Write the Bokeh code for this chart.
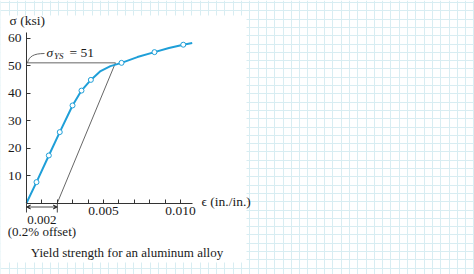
import numpy as np
from bokeh.plotting import figure
from bokeh.models import (Label, BoxAnnotation, FixedTicker, Arrow, VeeHead,
                          NumeralTickFormatter)
from bokeh.embed import file_html
from bokeh.resources import INLINE

# ---------------- data ----------------
# measured points (circles) on the stress-strain curve
strain_pts = [0.00065, 0.00145, 0.00216, 0.00299, 0.00357, 0.00418, 0.00617, 0.00831, 0.01018]
stress_pts = [7.6, 17.3, 25.8, 35.5, 40.9, 44.8, 51.0, 54.9, 57.6]
# points along the drawn curve
curve_strain = [0.0, 0.00065, 0.00145, 0.00216, 0.00299, 0.00357, 0.00418, 0.00481,
                0.00545, 0.00617, 0.00720, 0.00831, 0.00925, 0.01018, 0.01076]
curve_stress = [0.0, 7.6, 17.3, 25.8, 35.5, 40.9, 44.8, 48.0,
                49.8, 51.0, 53.1, 54.9, 56.4, 57.6, 58.2]
yield_stress = 51          # ksi
offset_strain = 0.002      # 0.2 % offset
offset_modulus = 13500     # slope of drawn offset line (ksi per in./in.)
y_ticks = [10, 20, 30, 40, 50, 60]
x_label_ticks = [0.005, 0.010]
x_minor_ticks = [0.001, 0.002, 0.003, 0.004, 0.006, 0.007, 0.008, 0.009]

# ---------------- layout helpers (pixel -> data) ----------------
W, H = 474, 274
X0_PX, PX_PER_X = 26.0, 15400.0
Y0_PX, PX_PER_Y = 202.5, 2.748


def px2x(px):
    return (px - X0_PX) / PX_PER_X


def px2y(py):
    return (Y0_PX - py) / PX_PER_Y


FONT = "Liberation Serif"
INK = "#1a1a1a"
CURVE = "#1f9fd8"
THIN = "#555555"

p = figure(width=W, height=H, x_range=(px2x(0), px2x(W)), y_range=(px2y(H), px2y(0)),
           output_backend="svg", toolbar_location=None, min_border=0,
           outline_line_color=None, background_fill_color="white",
           border_fill_color="white")

# graph-paper background
gx = [px2x(v) for v in np.arange(0.3, W + 1, 8.3)]
gy = [px2y(v) for v in np.arange(2.0, H + 1, 8.3)]
p.xgrid.ticker = FixedTicker(ticks=gx)
p.ygrid.ticker = FixedTicker(ticks=gy)
for g in (p.xgrid, p.ygrid):
    g.grid_line_color = "#d8edf2"
    g.grid_line_width = 1

# white sheet of the figure
p.add_layout(BoxAnnotation(left=px2x(0), right=px2x(246), top=px2y(15), bottom=px2y(262),
                           fill_color="white", fill_alpha=1.0, line_color=None,
                           level="underlay"))

# axes
xa = p.xaxis[0]
ya = p.yaxis[0]
xa.fixed_location = 0
ya.fixed_location = 0
xa.bounds = (0, px2x(192))
ya.bounds = (0, px2y(32))
xa.ticker = FixedTicker(ticks=x_label_ticks, minor_ticks=x_minor_ticks)
xa.formatter = NumeralTickFormatter(format="0.000")
ya.ticker = FixedTicker(ticks=y_ticks)
for a in (xa, ya):
    a.axis_line_color = "#333333"
    a.axis_line_width = 1
    a.major_tick_line_color = "#333333"
    a.minor_tick_line_color = "#333333"
    a.major_tick_in = 4
    a.major_tick_out = 0
    a.minor_tick_in = 4
    a.minor_tick_out = 0
    a.major_label_text_font = FONT
    a.major_label_text_font_size = "13.5px"
    a.major_label_text_color = INK
ya.minor_tick_line_color = None
ya.major_label_standoff = 5
xa.major_label_standoff = 4

# offset line and yield line
yield_strain_on_offset = offset_strain + yield_stress / offset_modulus
p.line([offset_strain, yield_strain_on_offset], [0, yield_stress], line_color=THIN, line_width=0.9)
p.line([0, yield_strain_on_offset], [yield_stress, yield_stress], line_color=THIN, line_width=0.9)

# the curve and its points
p.line(curve_strain, curve_stress, line_color=CURVE, line_width=2)
p.scatter(strain_pts, stress_pts, size=5, marker="circle", fill_color="white",
          line_color=CURVE, line_width=1)

# leader line to the sigma_YS label
p.bezier(x0=[px2x(27)], y0=[yield_stress], x1=[px2x(44)], y1=[px2y(53)],
         cx0=[px2x(28.5)], cy0=[px2y(56)], cx1=[px2x(33)], cy1=[px2y(53)],
         line_color=THIN, line_width=0.9)

# 0.002 offset bracket
p.segment(x0=[0, offset_strain], y0=[px2y(203), px2y(203)],
          x1=[0, offset_strain], y1=[px2y(212), px2y(212)],
          line_color="#333333", line_width=0.9)
p.add_layout(Arrow(x_start=0, y_start=px2y(206.5), x_end=offset_strain, y_end=px2y(206.5),
                   start=VeeHead(size=4, line_color="#333333", line_width=0.9),
                   end=VeeHead(size=4, line_color="#333333", line_width=0.9),
                   line_color="#333333", line_width=0.9))


def lab(text, xpx=None, ypx=None, x=None, y=None, align="left", size="13px", style="normal"):
    p.add_layout(Label(x=x if x is not None else px2x(xpx),
                       y=y if y is not None else px2y(ypx),
                       text=text, text_font=FONT, text_font_size=size,
                       text_font_style=style, text_color=INK, text_align=align,
                       text_baseline="middle"))


lab("σ (ksi)", xpx=9, ypx=20, size="13.5px")
lab("σ", xpx=46, ypx=52, style="italic", size="13.5px")
lab("YS", xpx=53.5, ypx=55, size="9px", style="italic")
lab("= 51", xpx=69, ypx=52, size="13.5px")
lab("ϵ (in./in.)", xpx=201, ypx=201, size="13.5px")
lab("0.002", x=offset_strain / 2, ypx=219, align="center")
lab("(0.2% offset)", x=offset_strain / 2, ypx=231, align="center")
lab("Yield strength for an aluminum alloy", xpx=126.5, ypx=252, align="center")

open("out.html", "w").write(file_html(p, INLINE))
